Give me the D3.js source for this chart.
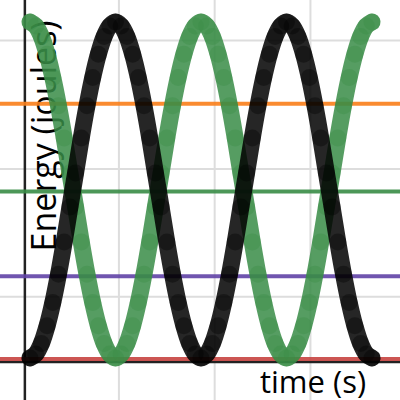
<!DOCTYPE html>
<html>
<head>
<script src="https://d3js.org/d3.v7.min.js"></script>
<style>
  body { margin: 0; }
  svg { font-family: "Open Sans", sans-serif; }
</style>
</head>
<body>
<svg width="400" height="400"></svg>
<script>
  var times = [0.00,0.05,0.10,0.15,0.20,0.25,0.30,0.35,0.40,0.45,0.50,0.55,0.60,0.65,0.70,0.75,0.80,0.85,0.90,0.95,
    1.00,1.05,1.10,1.15,1.20,1.25,1.30,1.35,1.40,1.45,1.50,1.55,1.60,1.65,1.70,1.75,1.80,1.85,1.90,1.95,
    2.00,2.05,2.10,2.15,2.20,2.25,2.30,2.35,2.40,2.45,2.50,2.55,2.60,2.65,2.70,2.75,2.80,2.85,2.90,2.95,3.00];
  // kinetic energy (green)
  var kinetic = [3.45,3.41,3.30,3.12,2.88,2.59,2.26,1.90,1.55,1.19,0.86,0.57,0.33,0.15,0.04,0.00,
    0.04,0.15,0.33,0.57,0.86,1.19,1.55,1.90,2.26,2.59,2.88,3.12,3.30,3.41,3.45,
    3.41,3.30,3.12,2.88,2.59,2.26,1.90,1.55,1.19,0.86,0.57,0.33,0.15,0.04,0.00,
    0.04,0.15,0.33,0.57,0.86,1.19,1.55,1.90,2.26,2.59,2.88,3.12,3.30,3.41,3.45];
  // potential energy (black)
  var potential = [0.00,0.04,0.15,0.33,0.57,0.86,1.19,1.55,1.90,2.26,2.59,2.88,3.12,3.30,3.41,3.45,
    3.41,3.30,3.12,2.88,2.59,2.26,1.90,1.55,1.19,0.86,0.57,0.33,0.15,0.04,0.00,
    0.04,0.15,0.33,0.57,0.86,1.19,1.55,1.90,2.26,2.59,2.88,3.12,3.30,3.41,3.45,
    3.41,3.30,3.12,2.88,2.59,2.26,1.90,1.55,1.19,0.86,0.57,0.33,0.15,0.04,0.00];
  var levels = [2.61, 1.71, 0.84, 0.00];
  var levelColors = ["#fa7e19", "#388c46", "#6042a6", "#c74440"];
  var gridX = [0.78, 1.62, 2.46];
  var gridY = [3.26, 1.94, 0.63];

  var svg = d3.select("svg");
  var x = d3.scaleLinear().domain([0, 3]).range([30, 372]);
  var y = d3.scaleLinear().domain([0, 3.45]).range([358, 22]);

  svg.append("rect").attr("width", 400).attr("height", 400).attr("fill", "#fff");

  // grid
  svg.selectAll(".gx").data(gridX).enter().append("line")
    .attr("x1", x).attr("x2", x).attr("y1", 0).attr("y2", 400)
    .attr("stroke", "#ddd").attr("stroke-width", 2);
  svg.selectAll(".gy").data(gridY).enter().append("line")
    .attr("y1", y).attr("y2", y).attr("x1", 0).attr("x2", 400)
    .attr("stroke", "#ddd").attr("stroke-width", 2);

  // axes
  svg.append("line").attr("x1", x(-0.045)).attr("x2", x(-0.045)).attr("y1", 0).attr("y2", 400)
    .attr("stroke", "#222").attr("stroke-width", 2.5);
  svg.append("line").attr("x1", 0).attr("x2", 400).attr("y1", 362).attr("y2", 362)
    .attr("stroke", "#222").attr("stroke-width", 2.5);

  // axis labels
  svg.append("text").attr("transform", "translate(56,136) rotate(-90)")
    .attr("text-anchor", "middle").attr("font-size", 34).attr("fill", "#000")
    .text("Energy (joules)");
  svg.append("text").attr("x", 313).attr("y", 393)
    .attr("text-anchor", "middle").attr("font-size", 31).attr("fill", "#000")
    .text("time (s)");

  // energy levels
  svg.selectAll(".lvl").data(levels).enter().append("line")
    .attr("x1", 0).attr("x2", 400).attr("y1", function(d) { return d === 0 ? 359 : y(d); })
    .attr("y2", function(d) { return d === 0 ? 359 : y(d); })
    .attr("stroke", function(d, i) { return levelColors[i]; })
    .attr("stroke-width", 4).attr("stroke-opacity", 0.9);

  // curves drawn as thick tubes with dots on top
  var line = d3.line()
    .x(function(d, i) { return x(times[i]); })
    .y(function(d) { return y(d); })
    .curve(d3.curveCatmullRom);
  function curve(vals, color) {
    svg.append("path").datum(vals).attr("d", line)
      .attr("fill", "none").attr("stroke", color).attr("stroke-width", 17)
      .attr("stroke-linecap", "round").attr("stroke-opacity", 0.85);
    svg.append("g").selectAll("circle").data(vals).enter().append("circle")
      .attr("cx", function(d, i) { return x(times[i]); })
      .attr("cy", function(d) { return y(d); })
      .attr("r", 8.5)
      .attr("fill", color).attr("fill-opacity", 0.35);
  }
  curve(kinetic, "#388c46");
  curve(potential, "#000");
</script>
</body>
</html>
